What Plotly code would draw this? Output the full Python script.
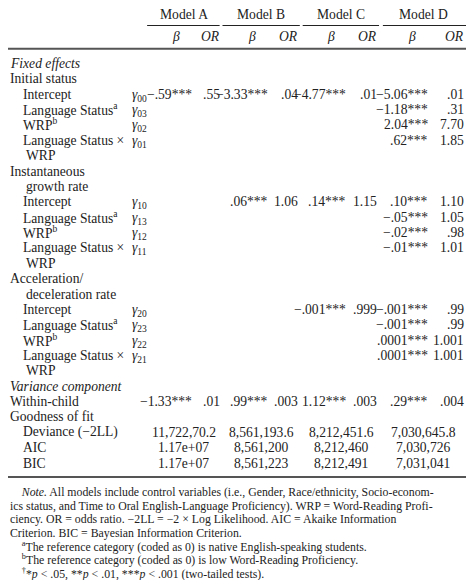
import plotly.graph_objects as go

models = ["Model A", "Model B", "Model C", "Model D"]

row_labels = [
    ("<i>Fixed effects</i>", 0), ("Initial status", 0),
    ("Intercept", 1), ("Language Status<sup>a</sup>", 1), ("WRP<sup>b</sup>", 1),
    ("Language Status \u00d7", 1), ("WRP", 2),
    ("Instantaneous", 0), ("growth rate", 2),
    ("Intercept", 1), ("Language Status<sup>a</sup>", 1), ("WRP<sup>b</sup>", 1),
    ("Language Status \u00d7", 1), ("WRP", 2),
    ("Acceleration/", 0), ("deceleration rate", 2),
    ("Intercept", 1), ("Language Status<sup>a</sup>", 1), ("WRP<sup>b</sup>", 1),
    ("Language Status \u00d7", 1), ("WRP", 2),
    ("<i>Variance component</i>", 0), ("Within-child", 0), ("Goodness of fit", 0),
    ("Deviance (\u22122LL)", 1), ("AIC", 1), ("BIC", 1),
]
gammas = ["", "", "00", "03", "02", "01", "", "", "", "10", "13", "12", "11", "", "", "",
          "20", "23", "22", "21", "", "", "", "", "", "", ""]

beta_a = {2: "\u2212.59***", 22: "\u22121.33***"}
or_a = {2: ".55", 22: ".01"}
beta_b = {2: "\u22123.33***", 9: ".06***", 22: ".99***"}
or_b = {2: ".04", 9: "1.06", 22: ".003"}
beta_c = {2: "\u22124.77***", 9: ".14***", 16: "\u2212.001***", 22: "1.12***"}
or_c = {2: ".01", 9: "1.15", 16: ".999", 22: ".003"}
beta_d = {2: "\u22125.06***", 3: "\u22121.18***", 4: "2.04***", 5: ".62***",
          9: ".10***", 10: "\u2212.05***", 11: "\u2212.02***", 12: "\u2212.01***",
          16: "\u2212.001***", 17: "\u2212.001***", 18: ".0001***", 19: ".0001***",
          22: ".29***"}
or_d = {2: ".01", 3: ".31", 4: "7.70", 5: "1.85", 9: "1.10", 10: "1.05", 11: ".98",
        12: "1.01", 16: ".99", 17: ".99", 18: "1.001", 19: "1.001", 22: ".004"}

deviance = ["11,722,70.2", "8,561,193.6", "8,212,451.6", "7,030,645.8"]
aic = ["1.17e+07", "8,561,200", "8,212,460", "7,030,726"]
bic = ["1.17e+07", "8,561,223", "8,212,491", "7,031,041"]

notes = [
    "    <i>Note.</i> All models include control variables (i.e., Gender, Race/ethnicity, Socio-econom-",
    "ics status, and Time to Oral English-Language Proficiency). WRP = Word-Reading Profi-",
    "ciency. OR = odds ratio. \u22122LL = \u22122 \u00d7 Log Likelihood. AIC = Akaike Information",
    "Criterion. BIC = Bayesian Information Criterion.",
    "    <sup>a</sup>The reference category (coded as 0) is native English-speaking students.",
    "    <sup>b</sup>The reference category (coded as 0) is low Word-Reading Proficiency.",
    "    <sup>\u2020</sup>*<i>p</i> < .05, **<i>p</i> < .01, ***<i>p</i> < .001 (two-tailed tests).",
]

FONT = "Liberation Serif"
COL = "#222"
model_center = [182, 262, 345, 430]
model_span = [(144, 219), (222, 302), (305, 384), (388, 474)]
beta_right = [192, 271, 352, 437]
or_right = [221, 302, 384, 474]
y0, dy = 57, 15.8

ann = []


def text(x, y, s, anchor="left", size=13.6):
    ann.append(dict(x=x, y=y, text=s, xanchor=anchor, yanchor="middle", showarrow=False,
                    font=dict(family=FONT, size=size, color=COL)))


for i, m in enumerate(models):
    text(model_center[i], 7, m, "center")
    text((beta_right[i] + model_span[i][0]) / 2 + 6, 29, "<i>\u03b2</i>", "center")
    text(or_right[i], 29, "<i>OR</i>", "right")

for r, (lab, ind) in enumerate(row_labels):
    y = y0 + r * dy
    text([0, 13, 17][ind], y, lab)
    if gammas[r]:
        text(126, y + 1, "<i>\u03b3</i><sub>" + gammas[r] + "</sub>")
    for i, (b, o) in enumerate([(beta_a, or_a), (beta_b, or_b), (beta_c, or_c), (beta_d, or_d)]):
        if r in b:
            text(beta_right[i], y, b[r], "right")
        if r in o:
            text(or_right[i], y, o[r], "right")

for k, vals in enumerate([deviance, aic, bic]):
    for i, v in enumerate(vals):
        text(model_center[i], y0 + (24 + k) * dy, v, "center")

for k, line in enumerate(notes):
    text(0, 498 + k * 13.8, line, size=11.8)

shapes = [dict(type="line", x0=a, x1=b, y0=18, y1=18, line=dict(color=COL, width=1))
          for a, b in model_span]
shapes += [dict(type="line", x0=0, x1=474, y0=y, y1=y, line=dict(color="#555", width=2))
           for y in (42, 482)]

fig = go.Figure()
fig.update_layout(
    width=458, height=572, margin=dict(l=0, r=0, t=0, b=0),
    paper_bgcolor="white", plot_bgcolor="white",
    xaxis=dict(range=[0, 474], visible=False),
    yaxis=dict(range=[588, 0], visible=False),
    annotations=ann, shapes=shapes, showlegend=False,
)
fig.write_html("out.html")
